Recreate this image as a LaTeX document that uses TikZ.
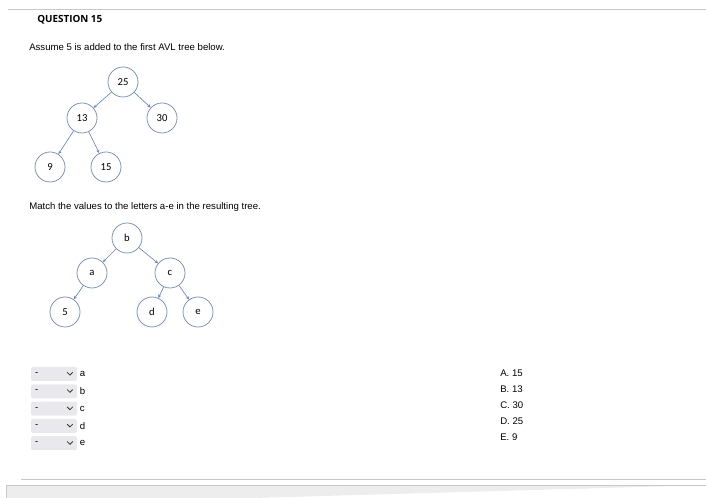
\documentclass[tikz,border=0pt]{standalone}
\usepackage{fontspec}
\setmainfont{Liberation Sans}
\newfontfamily\nodefont{Carlito}
\newfontfamily\headfont{Open Sans}
\usetikzlibrary{arrows.meta}
\definecolor{circblue}{HTML}{7F93B8}
\definecolor{edgeblue}{HTML}{6A89C2}
\definecolor{ddgray}{HTML}{E9E9ED}
\definecolor{rulegray}{HTML}{C8C8C8}
\definecolor{panelgray}{HTML}{EDEDED}

\tikzset{
	treenode/.style={circle, draw=circblue, line width=0.6pt, minimum size=22.5pt,
		inner sep=0pt, font=\nodefont\fontsize{8}{9}\selectfont},
	treeedge/.style={draw=edgeblue, line width=0.5pt,
		-{Stealth[length=2.6pt,width=2.4pt]}},
	plaintext/.style={anchor=west, inner sep=0pt, font=\fontsize{7.2}{8}\selectfont},
	dropbox/.style={rectangle, rounded corners=1.5pt, fill=ddgray, minimum width=34.5pt,
		minimum height=10.5pt, inner sep=0pt},
}

\begin{document}
\begin{tikzpicture}[x=0.75pt, y=-0.75pt]
	\useasboundingbox (0,0) rectangle (706,498);
	\draw[rulegray, line width=0.6pt] (8,9) -- (706,9);
	\node[anchor=west, inner sep=0pt, font=\headfont\bfseries\fontsize{7.4}{9}\selectfont] (title) at (37,20) {QUESTION 15};
	\node[plaintext] (intro) at (29,47) {Assume 5 is added to the first AVL tree below.};

	% first tree
	\node[treenode] (n25) at (123,82) {25};
	\node[treenode] (n13) at (82,118) {13};
	\node[treenode] (n30) at (162,118) {30};
	\node[treenode] (n9) at (50,167) {9};
	\node[treenode] (n15) at (106,167) {15};
	\draw[treeedge] (n25) -- (n13);
	\draw[treeedge] (n25) -- (n30);
	\draw[treeedge] (n13) -- (n9);
	\draw[treeedge] (n13) -- (n15);

	\node[plaintext] (match) at (29,207) {Match the values to the letters a-e in the resulting tree.};

	% resulting tree
	\node[treenode] (tb) at (127,238) {b};
	\node[treenode] (ta) at (92,273) {a};
	\node[treenode] (tc) at (170,273) {c};
	\node[treenode] (t5) at (65,312) {5};
	\node[treenode] (td) at (152,312) {d};
	\node[treenode] (te) at (198,312) {e};
	\draw[treeedge] (tb) -- (ta);
	\draw[treeedge] (tb) -- (tc);
	\draw[treeedge] (ta) -- (t5);
	\draw[treeedge] (tc) -- (td);
	\draw[treeedge] (tc) -- (te);

	% drop-downs
	\foreach \l [count=\i] in {a,b,c,d,e} {
		\node[dropbox] (dd\i) at (54,374+17.3*\i-17.3) {};
		\node[plaintext] (dash\i) at ([xshift=3pt]dd\i.west) {-};
		\draw[black!80, line width=0.6pt] ([xshift=-7.6pt,yshift=1.3pt]dd\i.east) -- ([xshift=-5.5pt,yshift=-0.8pt]dd\i.east) -- ([xshift=-3.4pt,yshift=1.3pt]dd\i.east);
		\node[plaintext] (let\i) at ([xshift=1.8pt]dd\i.east) {\l};
	}

	% answers
	\foreach \t [count=\i] in {A. 15,B. 13,C. 30,D. 25,E. 9} {
		\node[plaintext] (ans\i) at (500,373+16*\i-16) {\t};
	}

	\draw[rulegray, line width=0.6pt] (21,479) -- (706,479);
	\draw[rulegray, fill=panelgray, line width=0.6pt] (6,505) -- (6,485) -- (710,485);
\end{tikzpicture}
\end{document}
